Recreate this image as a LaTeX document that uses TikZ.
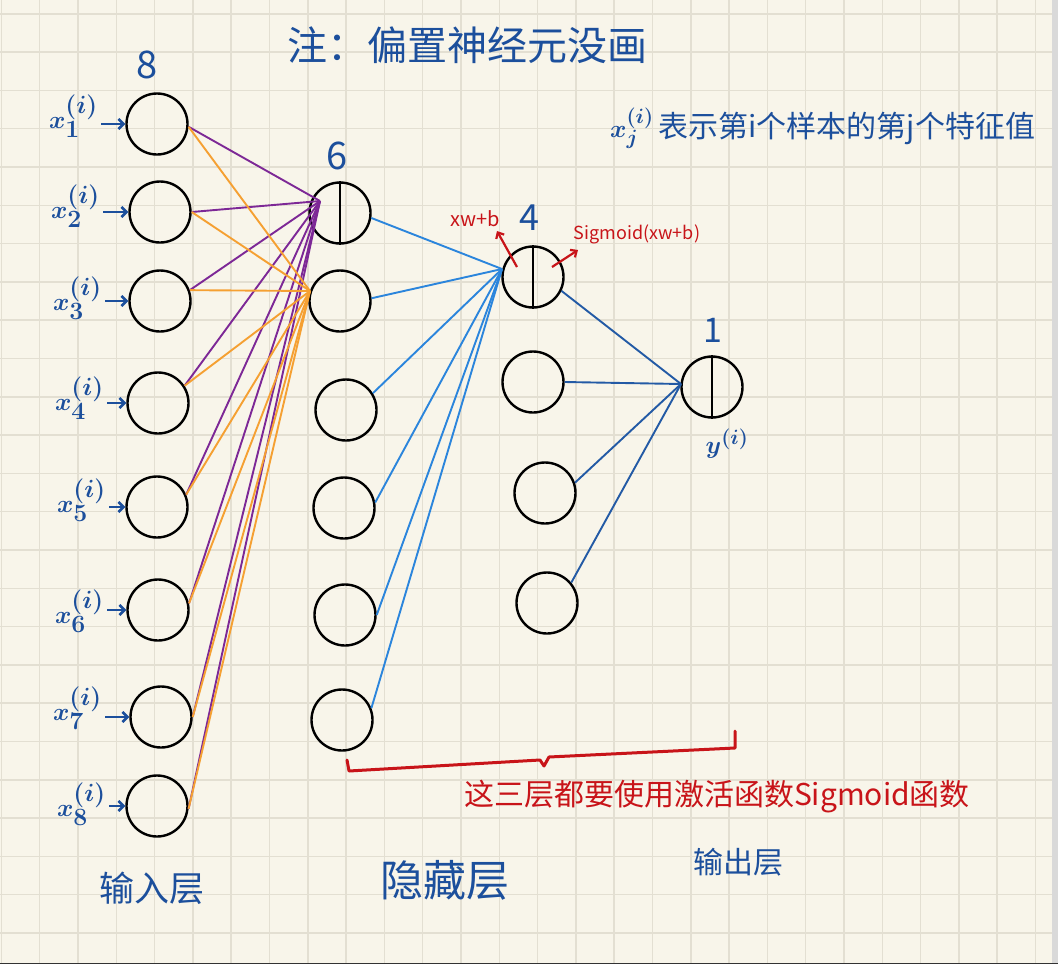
\documentclass[tikz,border=0pt]{standalone}
\usepackage{fontspec}
\newfontfamily\cjk{Noto Sans CJK SC}
\usetikzlibrary{arrows.meta}
\definecolor{paper}{HTML}{F8F5EA}
\definecolor{gridc}{HTML}{E3DFD2}
\definecolor{handblue}{HTML}{1C4F9C}
\definecolor{hredc}{HTML}{C81419}
\definecolor{purp}{HTML}{7D2896}
\definecolor{oran}{HTML}{F5A032}
\definecolor{lblue}{HTML}{2B85DC}
\definecolor{dblue}{HTML}{235AA5}
\tikzset{
  neuron/.style={circle, draw=black, line width=2.4pt, minimum size=61pt, inner sep=0pt},
  splitline/.style={line width=2.4pt, black},
  pedge/.style={purp, line width=1.9pt},
  oedge/.style={oran, line width=1.9pt},
  bedge/.style={lblue, line width=1.9pt},
  dedge/.style={dblue, line width=1.9pt},
  inarr/.style={handblue, line width=2.6pt, -{Straight Barb[length=5pt,width=10pt]}},
  redarr/.style={hredc, line width=2.2pt, -{Straight Barb[length=5pt,width=9pt]}},
  bluetxt/.style={handblue, inner sep=0pt},
  redtxt/.style={hredc, inner sep=0pt},
}
\begin{document}
\begin{tikzpicture}[x=1pt,y=-1pt]
\useasboundingbox (0,0) rectangle (1058,964);
\fill[paper] (0,0) rectangle (1058,964);
% grid
\foreach \k in {0,...,27} {\draw[gridc, line width=1.5pt] ({1.4+38.3*\k},0) -- ({1.4+38.3*\k},964);}
\foreach \k in {0,...,24} {\draw[gridc, line width=1.5pt] (0,{13.8+38.3*\k}) -- (1058,{13.8+38.3*\k});}
\fill[black!15] (1052,0) rectangle (1058,964);
\draw[black!80, line width=1pt] (0,963.5) -- (1058,963.5);

% input layer
\node[neuron] (i1) at (157,124) {};
\node[neuron] (i2) at (160,212) {};
\node[neuron] (i3) at (160,301) {};
\node[neuron] (i4) at (158,403) {};
\node[neuron] (i5) at (157,507) {};
\node[neuron] (i6) at (158,610) {};
\node[neuron] (i7) at (161,717) {};
\node[neuron] (i8) at (157,806) {};
% hidden layer 1
\node[neuron] (h1) at (340,213) {};
\node[neuron] (h2) at (340,301) {};
\node[neuron] (h3) at (346,410) {};
\node[neuron] (h4) at (344,508) {};
\node[neuron] (h5) at (345,615) {};
\node[neuron] (h6) at (342,720) {};
% hidden layer 2
\node[neuron] (g1) at (533,277) {};
\node[neuron] (g2) at (533,382) {};
\node[neuron] (g3) at (545,493) {};
\node[neuron] (g4) at (547,603) {};
% output
\node[neuron] (o) at (712,387) {};

\draw[splitline] (h1.north) -- (h1.south);
\draw[splitline] (g1.north) -- (g1.south);
\draw[splitline] (o.north) -- (o.south);

% convergence points
\coordinate (P) at (320,201);
\coordinate (Q) at (310,291);
\coordinate (B) at (502,269);
\coordinate (D) at (681,384);

% input -> hidden1
\foreach \n/\a in {1/-5,2/0,3/20,4/33,5/23,6/12,7/0,8/-5} {
  \draw[pedge] (i\n.\a) -- (P);
}
\foreach \n/\a in {1/-5,2/0,3/20,4/33,5/23,6/12,7/0,8/-5} {
  \draw[oedge] (i\n.\a) -- (Q);
}
% hidden1 -> hidden2
\foreach \n/\a in {1/-9,2/5,3/32,4/10,5/0,6/22} {
  \draw[bedge] (h\n.\a) -- (B);
}
% hidden2 -> output
\foreach \n/\a in {1/-26,2/0,3/19,4/40} {
  \draw[dedge] (g\n.\a) -- (D);
}

% input labels
\foreach \n/\lx/\ly in {1/98/116,2/100/206,3/102/298,4/104/398,5/106/500,6/104/611,7/102/708,8/106/804} {
  \node[bluetxt, anchor=east, font=\fontsize{34}{34}\selectfont\boldmath] (l\n) at (\lx,\ly) {$x^{(i)}_{\n}$};
  \draw[inarr, shorten <=3pt] (l\n.east |- i\n.west) -- (i\n.west);
}

% layer sizes
\node[bluetxt, font=\cjk\fontsize{38}{38}\selectfont] (n8) at (147,65) {8};
\node[bluetxt, font=\cjk\fontsize{38}{38}\selectfont] (n6) at (337,156) {6};
\node[bluetxt, font=\cjk\fontsize{36}{36}\selectfont] (n4) at (529,218) {4};
\node[bluetxt, font=\cjk\fontsize{34}{34}\selectfont] (n1) at (713,330) {1};
\node[bluetxt, font=\fontsize{32}{32}\selectfont\boldmath] (yl) at (727,444) {$y^{(i)}$};

% red annotations
\node[redtxt, font=\cjk\fontsize{20}{20}\selectfont] (xwb) at (475,219) {xw+b};
\node[redtxt, font=\cjk\fontsize{18}{18}\selectfont] (sig) at (637,234) {Sigmoid(xw+b)};
\coordinate (ra1) at (517,267);
\coordinate (ra2) at (552,267);
\draw[redarr] (ra1) -- (497,231);
\draw[redarr] (ra2) -- (578,250);

% bracket
\draw[hredc, line width=3pt, line join=round, line cap=round]
  (347,760) -- (349,771) -- (540,760) -- (544,766) -- (549,757) -- (735,748) -- (735,731);

% texts
\node[bluetxt, font=\cjk\fontsize{40}{40}\selectfont] (title) at (467,45) {注：偏置神经元没画};
\node[bluetxt, anchor=west, font=\cjk\fontsize{30}{30}\selectfont] (note) at (610,128) {{\boldmath$x_j^{(i)}$}\,表示第i个样本的第j个特征值};
\node[redtxt, font=\cjk\fontsize{30}{30}\selectfont] (act) at (717,797) {这三层都要使用激活函数Sigmoid函数};
\node[bluetxt, font=\cjk\fontsize{35}{35}\selectfont] (lin) at (152,888) {输入层};
\node[bluetxt, font=\cjk\fontsize{43}{43}\selectfont] (lhid) at (445,880) {隐藏层};
\node[bluetxt, font=\cjk\fontsize{30}{30}\selectfont] (lout) at (738,862) {输出层};
\end{tikzpicture}
\end{document}
